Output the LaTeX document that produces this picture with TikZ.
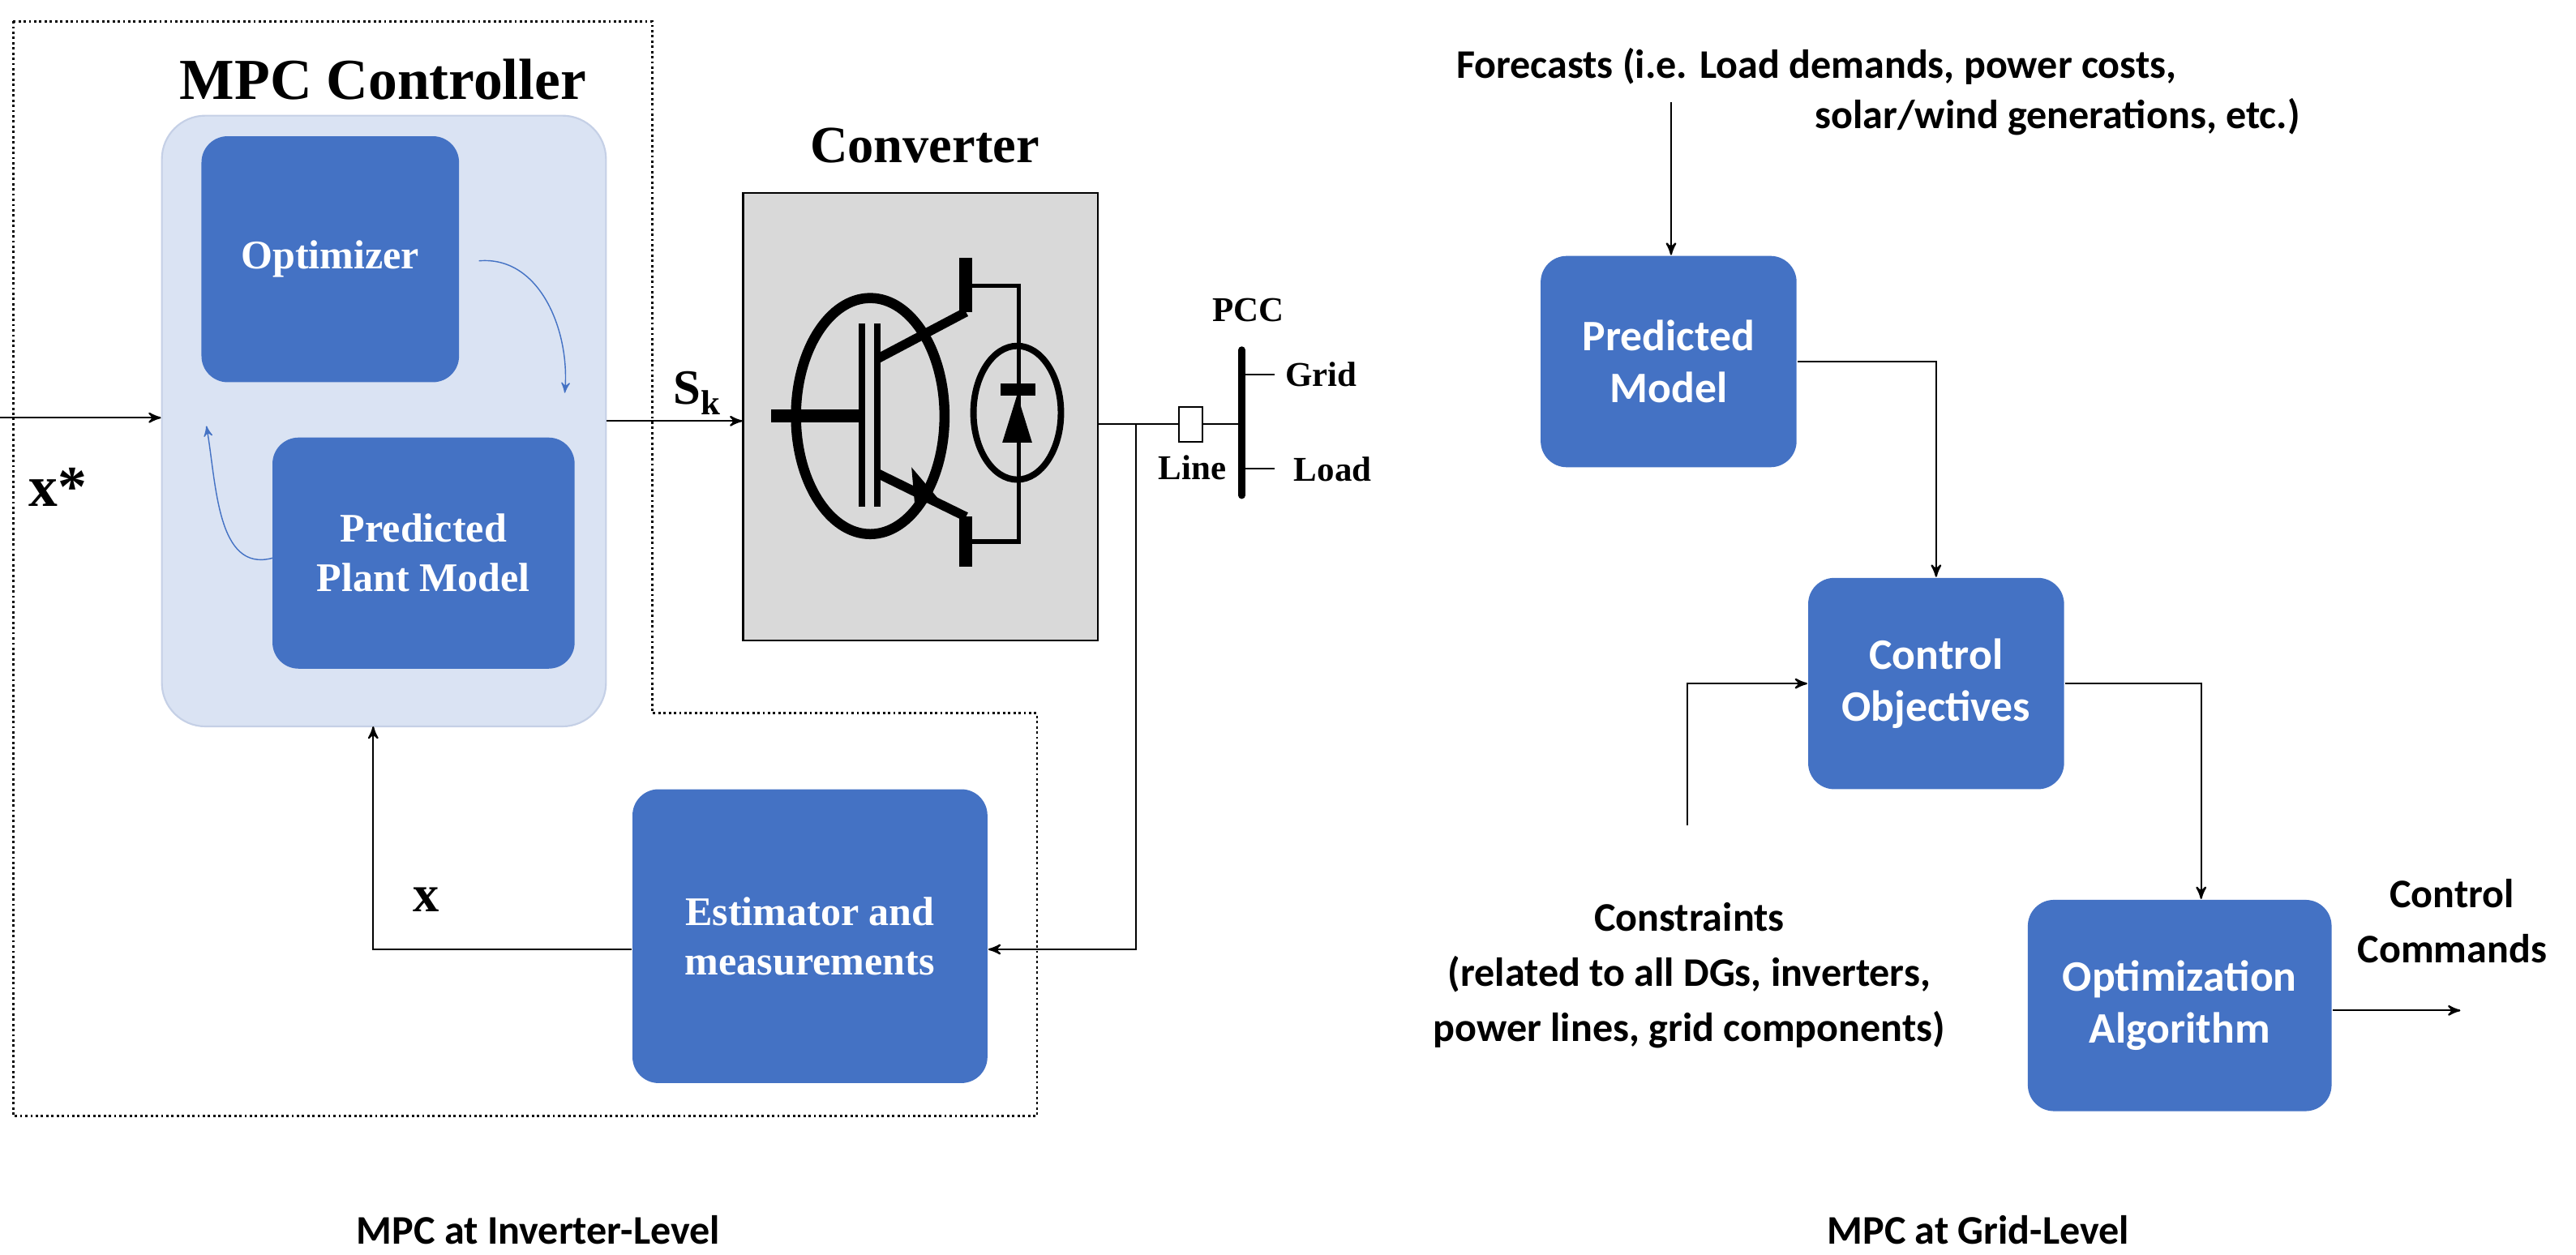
\documentclass[tikz,border=0pt]{standalone}
\usepackage{fontspec}
\setmainfont{Liberation Serif}
\newfontfamily\carl{Carlito}
\usetikzlibrary{arrows,positioning}
\definecolor{blockblue}{HTML}{4472C4}
\definecolor{panelblue}{HTML}{DAE3F3}
\definecolor{panelline}{HTML}{C5D0E6}
\definecolor{convgray}{HTML}{D9D9D9}
\tikzset{
  blk/.style={fill=blockblue, rounded corners=9pt, text=white, align=center, font=\bfseries\fontsize{14}{17}\selectfont},
  gblk/.style={blk, font=\carl\bfseries\fontsize{15}{18}\selectfont},
  lbl/.style={font=\carl\bfseries\fontsize{14}{19}\selectfont, align=center},
  sym/.style={line width=3.2pt},
}

\begin{document}
\begin{tikzpicture}[x=0.02cm, y=-0.02cm, ->, >=stealth', semithick]
		\useasboundingbox (0,0) rectangle (1560,760);
		% inverter level
		\draw[-, thick, densely dotted] (8,13) -- (395,13) -- (395,432) -- (628,432) -- (628,676) -- (8,676) -- cycle;
		\node[font=\bfseries\fontsize{20}{24}\selectfont] (title) at (232,48) {MPC Controller};
		\node[draw=panelline, fill=panelblue, rounded corners=15pt, minimum width=5.38cm, minimum height=7.4cm] (panel) at (232.5,255) {};
		\node[blk, minimum width=3.12cm, minimum height=2.98cm] (opt) at (200,157) {Optimizer};
		\node[blk, minimum width=3.66cm, minimum height=2.8cm] (plant) at (256.5,335) {Predicted\\Plant Model};
		\draw[blockblue, thin] (290,158) to[out=5,in=85] (342,238);
		\draw[blockblue, thin] (165,338) to[out=195,in=-80] (125,258);
		\node[font=\bfseries\fontsize{20}{24}\selectfont] (xstar) at (35,295) {x*};
		\coordinate (xin) at (0,253);
		\draw (xin) -- (xin -| panel.west);
		\node[font=\bfseries\fontsize{18}{22}\selectfont] (conv title) at (560,88) {Converter};
		\node[draw, fill=convgray, minimum width=4.3cm, minimum height=5.42cm] (conv) at (557.5,252.5) {};
		\draw (panel.east) -- (panel.east -| conv.west);
		\node[font=\bfseries\fontsize{17}{20}\selectfont] (sk) at (422,238) {S\raisebox{-0.45ex}{\fontsize{12}{14}\selectfont k}};
		% switch symbol
		\begin{scope}[-]
		\draw[line width=3.5pt] (527,252) ellipse [x radius=0.9cm, y radius=1.43cm];
		\draw[sym, line width=4.5pt] (467,252) -- (521,252);
		\draw[line width=2.2pt] (522,196) -- (522,307) (531.5,196) -- (531.5,307);
		\draw[sym] (532,217) -- (585,189);
		\draw[line width=4.5pt] (585,189) -- (585,156);
		\draw[sym] (532,287) -- (585,313);
		\draw[line width=4.5pt] (585,313) -- (585,343);
		\fill (569,303) -- (552,283) -- (554,306) -- cycle;
		\draw[line width=1.5pt] (586,173) -- (617,173) -- (617,328) -- (586,328);
		\draw[line width=2.2pt] (616,250) ellipse [x radius=0.53cm, y radius=0.81cm];
		\draw[line width=4pt] (606,236) -- (627,236);
		\fill (616,239) -- (607,268) -- (625,268) -- cycle;
		\end{scope}
		% grid connection
		\node[draw, fill=white, minimum width=0.28cm, minimum height=0.42cm, inner sep=0pt] (res) at (721,257) {};
		\coordinate (tap) at (688,257);
		\coordinate (bus top) at (752,212);
		\coordinate (bus bot) at (752,300);
		\draw[-] (conv.east |- res) -- (res) -- (res -| bus top);
		\draw[-, line width=2.5pt, line cap=round] (bus top) -- (bus bot);
		\coordinate (grid) at (772,227);
		\coordinate (load) at (772,284);
		\draw[-] (grid -| bus top) -- (grid);
		\draw[-] (load -| bus top) -- (load);
		\node[font=\bfseries\fontsize{12}{14}\selectfont] (pcc) at (756,188) {PCC};
		\node[font=\bfseries\fontsize{12}{14}\selectfont, right=0pt of grid] (grid lbl) {Grid};
		\node[font=\bfseries\fontsize{12}{14}\selectfont, right=3pt of load] (load lbl) {Load};
		\node[font=\bfseries\fontsize{12}{14}\selectfont] (line lbl) at (722,283) {Line};
		\node[blk, minimum width=4.3cm, minimum height=3.56cm] (est) at (490.5,567) {Estimator and\\measurements};
		\coordinate (fb) at (688,575);
		\draw (tap) -- (fb) -- (fb -| est.east);
		\draw (est.west |- fb) -| (226,440);
		\node[font=\bfseries\fontsize{18}{22}\selectfont] (xlbl) at (258,545) {x};
		\node[font=\carl\bfseries\fontsize{14}{17}\selectfont] (cap inv) at (326,745) {MPC at Inverter-Level};
		% grid level
		\node[lbl] (fc1) at (1100,40) {Forecasts (i.e. Load demands, power costs,};
		\node[lbl] (fc2) at (1246,71) {solar/wind generations, etc.)};
		\coordinate (fc in) at (1012,62);
		\node[gblk, minimum width=3.1cm, minimum height=2.56cm] (pm) at (1010.5,219) {Predicted\\Model};
		\node[gblk, minimum width=3.1cm, minimum height=2.56cm] (co) at (1172.5,414) {Control\\Objectives};
		\node[gblk, minimum width=3.68cm, minimum height=2.56cm] (oa) at (1320,609) {Optimization\\Algorithm};
		\draw (fc in) -- (fc in |- pm.north);
		\draw (pm.east) -| (co.north);
		\coordinate (cons in) at (1022,500);
		\draw (cons in) |- (co.west);
		\draw (co.east) -| ([xshift=0.26cm]oa.north);
		\coordinate (cmd out) at (1490,612);
		\draw (oa.east |- cmd out) -- (cmd out);
		\node[lbl] (cons) at (1023,591) {Constraints\\(related to all DGs, inverters,\\power lines, grid components)};
		\node[lbl] (cmd) at (1485,558) {Control\\Commands};
		\node[font=\carl\bfseries\fontsize{14}{17}\selectfont] (cap grid) at (1198,745) {MPC at Grid-Level};
\end{tikzpicture}
\end{document}
